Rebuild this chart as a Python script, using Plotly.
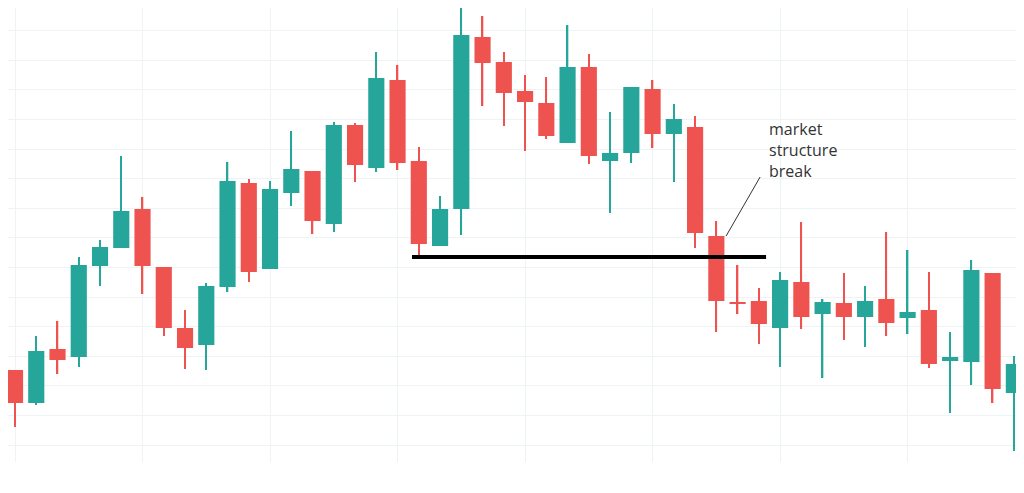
import numpy as np
import plotly.graph_objects as go

# candle OHLC (arbitrary price units)
opens = [126, 130, 97, 151, 143, 234, 252, 291, 233, 172, 155, 213, 317, 231, 307, 329, 276,
         375, 332, 420, 339, 254, 291, 463, 438, 409, 397, 357, 433, 339, 347, 411, 366, 373,
         264, 198, 199, 172, 218, 186, 197, 183, 201, 182, 190, 139, 138, 227, 107]
highs = [128, 130, 164, 179, 243, 260, 344, 303, 233, 190, 217, 338, 321, 319, 369, 329, 378,
         377, 448, 435, 353, 304, 495, 484, 448, 425, 423, 475, 446, 388, 413, 420, 396, 384,
         279, 235, 212, 228, 278, 201, 227, 214, 268, 250, 228, 168, 240, 227, 144]
lows = [126, 73, 95, 126, 133, 214, 252, 206, 164, 131, 130, 208, 218, 231, 294, 266, 268,
        318, 328, 330, 245, 254, 265, 394, 374, 349, 361, 357, 336, 287, 337, 352, 318, 252,
        168, 186, 156, 133, 171, 122, 160, 153, 164, 166, 132, 87, 115, 97, 49]
closes = [128, 97, 149, 140, 235, 253, 289, 234, 172, 152, 214, 319, 228, 311, 331, 279, 375,
          335, 422, 337, 256, 291, 465, 437, 407, 398, 364, 433, 344, 347, 413, 366, 381, 267,
          199, 196, 176, 220, 183, 198, 183, 199, 177, 188, 136, 143, 230, 111, 136]

level_price = 243
level_start, level_end = 19.68, 36.34
note_text = "market<br>structure<br>break"

GREEN = "#26a69a"
RED = "#ef5350"

o = np.array(opens)
c = np.array(closes)
h = np.array(highs)
l = np.array(lows)
idx = np.arange(len(opens))
colors = np.where(c >= o, GREEN, RED)

fig = go.Figure()
# wicks
fig.add_trace(go.Bar(x=idx, y=h - l, base=l, width=0.07, marker_color=colors,
                     marker_line_width=0, hoverinfo="skip"))
# bodies
fig.add_trace(go.Bar(x=idx, y=np.maximum(np.abs(c - o), 1.5), base=np.minimum(o, c), width=0.76,
                     marker_color=colors, marker_line_width=0))

fig.add_shape(type="line", x0=level_start, x1=level_end, y0=level_price, y1=level_price,
              line=dict(color="black", width=4))
fig.add_shape(type="line", x0=34.46, y0=264, x1=36.06, y1=323,
              line=dict(color="#333333", width=1))
fig.add_annotation(x=36.4, y=384, text=note_text, showarrow=False, xanchor="left",
                   yanchor="top", align="left",
                   font=dict(family="Open Sans", size=16, color="#333333"))

# page body has an 8px margin, so the figure is sized/ranged to land where the reference does
fig.update_layout(
    width=1008, height=477,
    margin=dict(l=0, r=0, t=0, b=23),
    paper_bgcolor="white", plot_bgcolor="white",
    showlegend=False, barmode="overlay",
)
fig.update_xaxes(range=[0.67, 48.1], tick0=1, dtick=6, showgrid=True, gridcolor="#eef3f6",
                 showticklabels=False, zeroline=False, ticks="")
fig.update_yaxes(range=[38, 492], tick0=499, dtick=29.6, showgrid=True, gridcolor="#eef3f6",
                 showticklabels=False, zeroline=False, ticks="")

fig.write_html("out.html")
